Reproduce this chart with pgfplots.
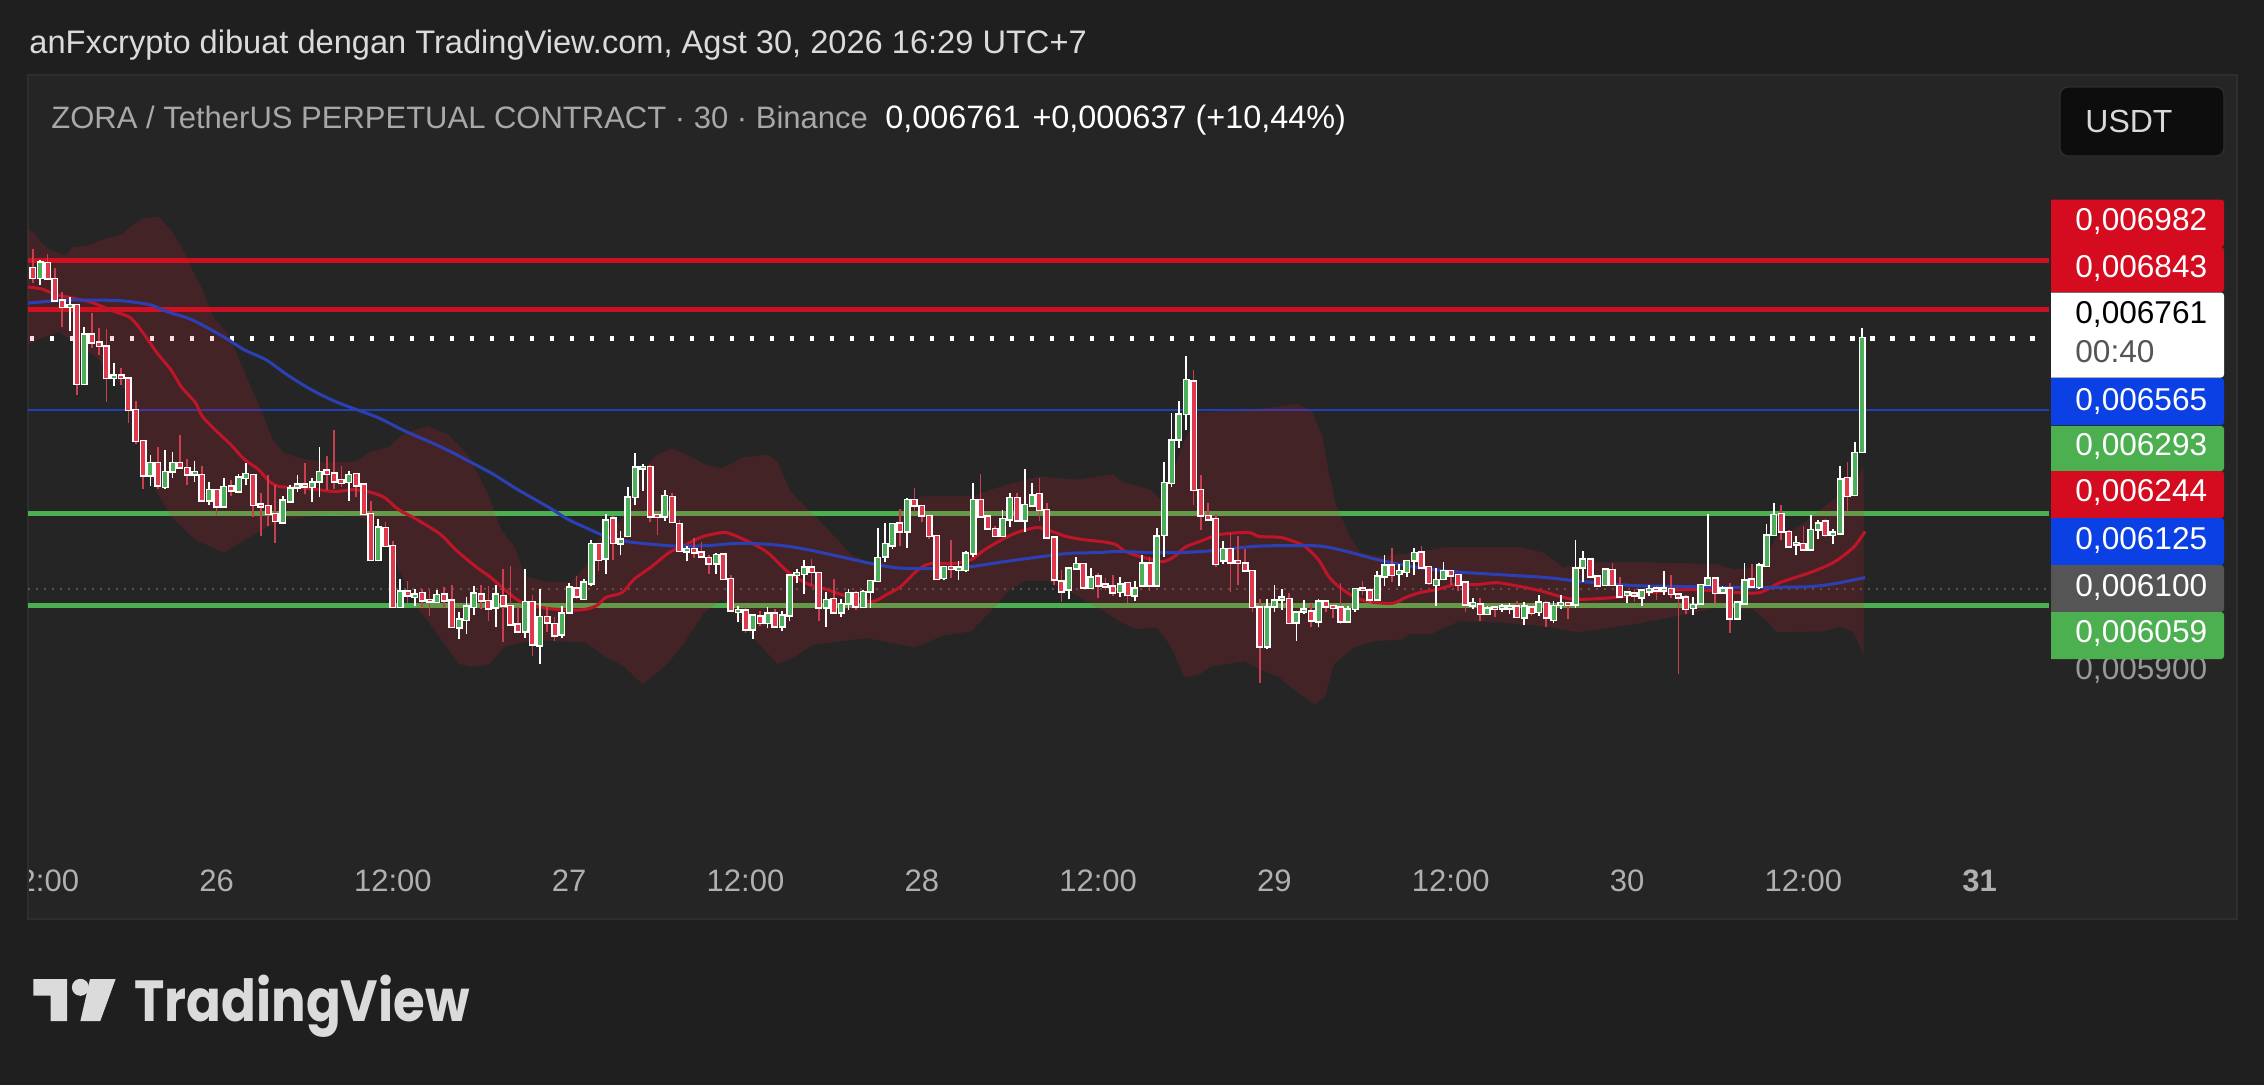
\documentclass[border=0pt]{standalone}
\usepackage{pgfplots}
\usepackage{pgfplotstable}
\usepackage{fontspec}
\pgfplotsset{compat=1.18}
\setmainfont{Liberation Sans}
\newfontfamily\tvfont{Poppins}
\definecolor{pagebg}{HTML}{1F1F1F}
\definecolor{panelbg}{HTML}{262526}
\definecolor{panelln}{HTML}{2F2E2F}
\definecolor{upfill}{HTML}{4CAF5A}
\definecolor{dnfill}{HTML}{E0394E}
\definecolor{dnwick}{HTML}{C93F4F}
\definecolor{lvred}{HTML}{CC0F22}
\definecolor{lvgreen}{HTML}{4CAF50}
\definecolor{lvblue}{HTML}{2040B8}
\definecolor{mared}{HTML}{BE1528}
\definecolor{mablue}{HTML}{2B40B4}
\definecolor{bandc}{RGB}{240,30,40}
\definecolor{boxred}{HTML}{D50B1F}
\definecolor{boxblue}{HTML}{0B40E4}
\definecolor{boxgreen}{HTML}{4CAF50}
\definecolor{boxgrey}{HTML}{555555}
% prices below are in millionths of USDT
\pgfplotstableread{
x o h l c
-25 6959 7014 6916 6932
-24 6932 6982 6911 6975
-23 6973 6999 6925 6930
-22 6928 6960 6868 6868
-21 6866 6892 6794 6850
-20 6850 6878 6782 6854
-19 6854 6856 6606 6637
-18 6637 6793 6632 6771
-17 6771 6832 6735 6750
-16 6749 6790 6715 6740
-15 6738 6787 6588 6652
-14 6652 6694 6631 6658
-13 6658 6680 6634 6652
-12 6650 6650 6531 6566
-11 6564 6590 6473 6483
-10 6481 6481 6357 6391
-9 6391 6444 6363 6423
-8 6423 6465 6357 6365
-7 6362 6458 6357 6399
-6 6402 6452 6384 6423
-5 6423 6497 6410 6412
-4 6410 6433 6365 6394
-3 6394 6428 6374 6399
-2 6391 6417 6326 6326
-1 6326 6375 6314 6352
0 6352 6352 6288 6311
1 6311 6383 6310 6360
2 6362 6380 6339 6352
3 6350 6394 6347 6385
4 6385 6423 6366 6394
5 6392 6392 6282 6315
6 6315 6344 6234 6311
7 6311 6391 6261 6292
8 6290 6365 6217 6273
9 6270 6337 6269 6324
10 6324 6365 6321 6357
11 6360 6391 6348 6367
12 6367 6423 6342 6363
13 6362 6385 6322 6372
14 6376 6465 6334 6399
15 6403 6442 6354 6396
16 6396 6512 6357 6376
17 6378 6417 6360 6372
18 6374 6403 6324 6392
19 6394 6394 6334 6366
20 6366 6366 6292 6292
21 6290 6324 6170 6174
22 6174 6277 6172 6256
23 6254 6270 6208 6210
24 6208 6221 6054 6056
25 6056 6126 6056 6093
26 6093 6121 6064 6085
27 6081 6099 6057 6086
28 6089 6099 6056 6072
29 6072 6097 6034 6070
30 6068 6097 6067 6084
31 6086 6104 6054 6072
32 6070 6111 6005 6006
33 6005 6043 5975 6023
34 6024 6081 5988 6056
35 6056 6107 6035 6088
36 6085 6109 6051 6072
37 6069 6107 6020 6052
38 6054 6111 6006 6086
39 6082 6151 5969 6059
40 6057 6159 6012 6012
41 6011 6056 5993 5996
42 5996 6151 5978 6067
43 6067 6086 5934 5963
44 5961 6101 5915 6029
45 6030 6056 5993 6018
46 6012 6029 5971 5986
47 5988 6057 5978 6039
48 6043 6116 6042 6103
49 6101 6132 6076 6082
50 6076 6126 6072 6116
51 6114 6225 6107 6213
52 6213 6213 6145 6174
53 6177 6291 6138 6273
54 6279 6285 6173 6217
55 6215 6248 6185 6225
56 6235 6361 6235 6333
57 6335 6449 6315 6411
58 6410 6422 6350 6413
59 6413 6420 6270 6285
60 6288 6288 6236 6284
61 6285 6352 6273 6337
62 6334 6346 6268 6271
63 6264 6274 6196 6197
64 6196 6208 6170 6200
65 6200 6230 6179 6193
66 6191 6219 6181 6183
67 6177 6187 6138 6165
68 6165 6190 6138 6185
69 6187 6187 6124 6126
70 6124 6136 6042 6048
71 6044 6057 6018 6047
72 6045 6057 5992 6000
73 6000 6037 5977 6033
74 6031 6045 6008 6016
75 6016 6054 6002 6039
76 6039 6051 6006 6008
77 6008 6045 5996 6033
78 6035 6136 6020 6133
79 6136 6151 6116 6139
80 6138 6173 6088 6153
81 6153 6176 6109 6143
82 6139 6139 6020 6055
83 6055 6092 6006 6072
84 6074 6124 6042 6043
85 6043 6076 6029 6062
86 6064 6099 6048 6089
87 6089 6095 6048 6057
88 6056 6097 6053 6092
89 6095 6119 6053 6119
90 6121 6255 6119 6177
91 6183 6268 6167 6213
92 6211 6268 6200 6264
93 6266 6304 6208 6246
94 6246 6331 6204 6326
95 6326 6359 6294 6313
96 6311 6313 6270 6287
97 6285 6285 6227 6235
98 6234 6234 6124 6126
99 6128 6159 6122 6155
100 6155 6223 6128 6151
101 6149 6170 6122 6153
102 6149 6197 6142 6189
103 6191 6370 6181 6326
104 6326 6394 6284 6285
105 6284 6285 6251 6254
106 6251 6261 6234 6235
107 6235 6302 6234 6277
108 6277 6346 6258 6331
109 6331 6344 6273 6275
110 6275 6407 6244 6313
111 6314 6372 6313 6339
112 6342 6385 6273 6302
113 6300 6318 6230 6231
114 6230 6230 6109 6124
115 6118 6149 6068 6095
116 6099 6155 6074 6151
117 6153 6181 6151 6162
118 6162 6162 6099 6105
119 6103 6153 6099 6128
120 6130 6141 6078 6110
121 6111 6128 6097 6107
122 6105 6136 6082 6092
123 6093 6131 6081 6110
124 6114 6116 6066 6086
125 6084 6120 6070 6101
126 6109 6185 6107 6164
127 6164 6181 6095 6110
128 6110 6255 6107 6232
129 6238 6427 6181 6370
130 6372 6557 6361 6483
131 6486 6590 6464 6552
132 6555 6713 6510 6645
133 6642 6674 6314 6354
134 6352 6391 6249 6288
135 6285 6320 6277 6277
136 6277 6292 6155 6164
137 6173 6221 6162 6200
138 6200 6243 6093 6167
139 6170 6235 6111 6166
140 6164 6200 6145 6147
141 6145 6145 6043 6056
142 6053 6076 5870 5959
143 5959 6074 5951 6053
144 6057 6111 6043 6070
145 6074 6099 6048 6078
146 6074 6091 6016 6016
147 6018 6041 5971 6041
148 6045 6072 6037 6048
149 6043 6062 6006 6022
150 6020 6076 6006 6068
151 6068 6070 6043 6057
152 6057 6057 6027 6053
153 6053 6116 6012 6020
154 6020 6057 6018 6048
155 6051 6101 6043 6099
156 6101 6120 6086 6099
157 6095 6103 6062 6074
158 6074 6145 6072 6131
159 6132 6185 6107 6158
160 6158 6204 6117 6136
161 6138 6162 6107 6145
162 6143 6174 6131 6170
163 6173 6204 6134 6190
164 6192 6210 6153 6155
165 6155 6155 6111 6116
166 6111 6153 6057 6122
167 6126 6169 6122 6145
168 6145 6149 6109 6134
169 6134 6136 6095 6111
170 6116 6116 6043 6062
171 6060 6078 6051 6064
172 6060 6078 6020 6039
173 6039 6057 6037 6051
174 6053 6053 6029 6051
175 6052 6062 6043 6055
176 6052 6066 6037 6056
177 6056 6070 6029 6031
178 6029 6068 6010 6056
179 6053 6062 6033 6041
180 6044 6086 6033 6066
181 6064 6070 6006 6029
182 6024 6070 6016 6057
183 6061 6085 6051 6064
184 6064 6064 6026 6061
185 6062 6223 6053 6151
186 6155 6197 6117 6174
187 6174 6179 6131 6132
188 6130 6130 6106 6109
189 6111 6151 6109 6149
190 6147 6166 6109 6111
191 6107 6131 6081 6082
192 6086 6090 6066 6090
193 6088 6099 6068 6084
194 6080 6101 6057 6096
195 6095 6111 6082 6099
196 6101 6107 6072 6097
197 6097 6145 6086 6101
198 6099 6136 6078 6088
199 6086 6086 5890 6080
200 6078 6084 6039 6051
201 6053 6080 6035 6059
202 6064 6113 6062 6109
203 6111 6291 6109 6126
204 6126 6128 6066 6091
205 6092 6107 6089 6101
206 6101 6116 5992 6027
207 6027 6070 6027 6066
208 6064 6166 6062 6121
209 6123 6162 6106 6107
210 6106 6166 6099 6158
211 6158 6266 6157 6235
212 6238 6318 6235 6287
213 6290 6313 6224 6246
214 6244 6249 6207 6208
215 6213 6235 6185 6216
216 6213 6259 6198 6200
217 6200 6287 6198 6249
218 6251 6275 6227 6266
219 6270 6279 6232 6238
220 6238 6253 6213 6243
221 6241 6416 6240 6380
222 6383 6427 6297 6339
223 6341 6480 6339 6449
224 6453 6789 6452 6761
}\candles
\pgfplotstableread{
x p
-25.7 7068
-24.8 7060
-23.9 7031
-22.4 7008
-20.5 6996
-19.6 7019
-17.2 7025
-15.3 7043
-12.9 7055
-11.5 7083
-9.8 7103
-7.9 7106
-6.2 7068
-4.3 7002
-3.3 6953
-1.9 6897
-0.5 6821
1.4 6776
3.1 6702
4.8 6620
6.2 6558
7.6 6486
9.1 6452
11.5 6436
14.8 6425
19.1 6428
21 6454
23.4 6465
25.3 6499
28.7 6522
31.5 6499
34.4 6441
36.8 6347
38.7 6251
40.6 6205
42 6131
44.9 6119
48.2 6116
50.2 6156
52.5 6243
54.9 6269
57.8 6399
59.7 6441
61.9 6462
64.5 6441
66.4 6420
68.8 6410
71.7 6438
75 6446
76.4 6425
78.1 6349
80.2 6308
83.6 6243
86.4 6187
89.3 6162
91.2 6174
93.1 6302
96 6336
102.7 6336
107.5 6367
112.2 6388
117 6380
122 6394
123.2 6375
127.1 6354
128.7 6321
131.8 6486
133.8 6558
141.4 6566
147.1 6582
149.1 6561
150.5 6494
151.4 6399
152.4 6310
154.3 6233
155.7 6192
158.6 6182
163.4 6192
167.2 6205
177.4 6205
180.6 6192
183.3 6154
187.4 6167
195.1 6167
204.2 6162
206.5 6149
210.1 6156
212.4 6233
215.5 6259
220.1 6328
221.9 6336
224.2 6415
224.2 5939
222.8 5993
221 6007
218.7 5995
212.4 5993
211 6020
209.2 6049
204.2 6054
200.1 6037
192.8 6012
185.3 5993
181 6007
174.8 6017
169.1 6020
165.3 5988
162.4 5988
161.5 5975
157.6 5971
154.8 5956
152.1 5915
150.9 5837
149.5 5818
148.1 5835
146.2 5859
144.7 5883
141.9 5903
140 5922
135.2 5908
133.8 5890
131.8 5883
129.9 5958
128 6005
125.2 6000
123.2 6017
120.4 6049
118 6074
115.6 6099
113.2 6121
109.9 6121
107.5 6091
106 6057
102.7 5995
98.9 5985
95.1 5956
88.4 5978
81.2 5963
78.8 5934
76.4 5915
73.6 5968
70.2 6042
68.8 6074
66.4 6042
63.5 5963
61.6 5920
58 5866
55.4 5910
53 5932
50.2 5968
45.4 5971
43.9 5975
39.2 5958
37.2 5915
34.9 5908
33 5915
29.6 6000
27.2 6057
24.8 6149
23.4 6218
22 6264
19.1 6285
15.3 6290
9.6 6277
6.7 6256
3.3 6218
1 6192
-2.9 6225
-6.2 6285
-8.1 6347
-9.6 6415
-11 6504
-12.4 6620
-16 6702
-17.7 6729
-21.5 6779
-23.9 6762
-25.7 6743
}\band
\pgfplotstableread{
x p
-25.7 6905
-23.9 6900
-22 6885
-19.6 6874
-17.2 6863
-15.5 6849
-13.8 6835
-11.7 6818
-10 6776
-8.1 6721
-6.2 6674
-4.8 6628
-2.9 6585
-1.9 6547
0.2 6504
1.9 6473
3.8 6433
5.7 6407
7.2 6375
8.6 6362
11 6360
13.8 6354
16.2 6349
18.6 6354
21 6347
22.9 6333
24.8 6302
27.2 6277
30.5 6238
32.5 6200
35.3 6156
37.2 6131
39.2 6099
41.5 6067
44.9 6052
49.2 6047
51.6 6057
53 6079
55.2 6091
56.8 6124
59.2 6156
61.6 6192
63.5 6208
65.9 6231
68.8 6243
70.2 6238
72.6 6218
75 6192
77.9 6141
80.7 6111
83.1 6099
85 6086
86.5 6081
89.3 6069
91.2 6086
93.1 6106
95.5 6149
97.2 6164
100.3 6164
102.7 6174
104.6 6200
107.5 6231
109.4 6246
111.8 6256
113.7 6246
115.6 6233
118 6225
120.4 6220
122.3 6213
123.7 6195
125.6 6182
127.5 6174
128.9 6169
130.4 6182
131.8 6205
133.8 6220
136.6 6238
140.4 6243
141.9 6233
144.7 6231
146.2 6223
148.1 6208
150 6174
151.4 6131
152.9 6104
154.8 6081
156.7 6069
160 6064
161.9 6079
163.8 6091
166.2 6099
168.6 6111
171.5 6111
174.3 6116
177.5 6106
180.5 6094
183.3 6079
185.1 6074
188.3 6076
191.5 6081
195.1 6091
200.1 6099
203.7 6096
207.3 6091
210.1 6091
212.8 6116
216.9 6141
220.1 6167
222.8 6205
224.4 6246
}\mared
\pgfplotstableread{
x p
-25.7 6860
-23.9 6863
-20.6 6868
-17.2 6868
-13 6866
-9.1 6855
-6.7 6835
-3.3 6812
1 6765
3.8 6729
6.7 6702
9.6 6661
12.9 6620
16.2 6588
19.1 6566
22 6544
25.8 6507
30.5 6467
34.4 6428
37.7 6394
41 6354
45.4 6306
47.8 6277
50.2 6256
53 6233
55.9 6220
59.2 6213
63 6208
66.9 6210
70.7 6215
75 6213
78.8 6205
83.6 6187
88.4 6167
92.2 6154
96 6151
101.7 6154
106.5 6167
111.3 6179
116 6190
120.3 6192
122.3 6195
127.1 6192
131.4 6192
135.7 6197
141.4 6208
147.1 6210
150.5 6208
153.8 6195
158.1 6174
162.9 6156
168.1 6144
174.8 6136
181 6129
185.8 6119
192.8 6109
200.1 6106
206.5 6104
211 6104
216.9 6106
220.5 6114
224.4 6129
}\mablue
\newcommand{\pbox}[6]{% top, bottom, fill, text colour, baseline, text
  \fill[#3] (2051,#1) -- (2221,#1) to[out=0,in=90] (2224,{#1+3}) -- (2224,{#2-3}) to[out=-90,in=0] (2221,#2) -- (2051,#2) -- cycle;
  \node[anchor=base west,inner sep=0pt,text=#4,font=\fontsize{15.8}{18}\selectfont] at (2075,#5) {#6};}
\begin{document}
\begin{tikzpicture}
\begin{scope}[x=0.5pt,y=-0.5pt]
\fill[pagebg] (-10,-10) rectangle (2274,1094);
\fill[panelbg,draw=panelln,line width=1pt] (28,75) rectangle (2237,919);
\end{scope}
\begin{axis}[
  at={(14pt,-422.5pt)},anchor=south west,
  scale only axis,width=1010.5pt,height=384.5pt,
  xmin=-25.67,xmax=249.44,
  ymode=log,ymin=0.005491,ymax=0.007530,
  axis line style={draw=none},
  tick style={draw=none},
  ytick=\empty,
  xtick={-24,0,24,48,72,96,120,144,168,192,216,240},
  xticklabels={12:00,26,12:00,27,12:00,28,12:00,29,12:00,30,12:00,\textbf{31}},
  xticklabel style={anchor=base,yshift=-23pt,text=white!69!black,font=\fontsize{15.5}{18}\selectfont},
  filter discard warning=false,
  wick/.style={draw=none,mark=none,
    error bars/.cd,y dir=plus,y explicit,error mark=none,
    error bar style={line width=0.85pt,draw=#1}},
  body/.style 2 args={draw=none,mark=none,
    error bars/.cd,y dir=plus,y explicit,error mark=none,
    error bar style={line width=#1,draw=#2}},
  isup/.style={x filter/.expression={\thisrow{c}>=\thisrow{o}?x:nan}},
  isdn/.style={x filter/.expression={\thisrow{c}<\thisrow{o}?x:nan}},
]
% horizontal levels, beneath the band
\addplot[lvred,line width=2.5pt] coordinates {(-25.67,0.006982) (249.44,0.006982)};
\addplot[lvred,line width=2.5pt] coordinates {(-25.67,0.006843) (249.44,0.006843)};
\addplot[lvblue,line width=1.3pt] coordinates {(-25.67,0.006565) (249.44,0.006565)};
\addplot[lvgreen,line width=2.5pt] coordinates {(-25.67,0.006293) (249.44,0.006293)};
\addplot[lvgreen,line width=2.5pt] coordinates {(-25.67,0.006059) (249.44,0.006059)};
\addplot[white!33!black,line width=0.7pt,dash pattern=on 0.9pt off 3.1pt] coordinates {(-25.67,0.006100) (249.44,0.006100)};
\addplot[white,line width=2.25pt,dash pattern=on 2.25pt off 7.75pt] coordinates {(-25.4,0.006761) (249.44,0.006761)};
% band
\addplot[draw=none,fill=bandc,fill opacity=0.15] table[x=x,y expr={\thisrow{p}/1000000}] {\band} -- cycle;
% moving averages
\addplot[mared,line width=1.5pt,line join=round,smooth,tension=0.5] table[x=x,y expr={\thisrow{p}/1000000}] {\mared};
\addplot[mablue,line width=1.5pt,line join=round,smooth,tension=0.5] table[x=x,y expr={\thisrow{p}/1000000}] {\mablue};
% candles: wicks, white outlines, fills
\addplot[isup,wick=white] table[x=x,y expr={\thisrow{l}/1000000},y error plus expr={(\thisrow{h}-\thisrow{l})/1000000}] {\candles};
\addplot[isdn,wick=dnwick] table[x=x,y expr={\thisrow{l}/1000000},y error plus expr={(\thisrow{h}-\thisrow{l})/1000000}] {\candles};
\addplot[body={3.5pt}{white}] table[x=x,y expr={(min(\thisrow{o},\thisrow{c})-4)/1000000},y error plus expr={(abs(\thisrow{c}-\thisrow{o})+8)/1000000}] {\candles};
\addplot[isup,body={2pt}{upfill}] table[x=x,y expr={\thisrow{o}/1000000},y error plus expr={(\thisrow{c}-\thisrow{o})/1000000}] {\candles};
\addplot[isdn,body={2pt}{dnfill}] table[x=x,y expr={\thisrow{c}/1000000},y error plus expr={(\thisrow{o}-\thisrow{c})/1000000}] {\candles};
\end{axis}
\begin{scope}[x=0.5pt,y=-0.5pt]
\fill[pagebg] (-10,850) rectangle (27.5,919);
\draw[panelln,line width=1pt] (28,850) -- (28,919);
% title and header
\node[anchor=base west,inner sep=0pt,text=white!86!black,font=\fontsize{16.3}{18}\selectfont] at (29,53) {anFxcrypto dibuat dengan TradingView.com, Agst 30, 2026 16:29 UTC+7};
\node[anchor=base west,inner sep=0pt,text=white!66!black,font=\fontsize{15.5}{18}\selectfont] at (51,128) {ZORA / TetherUS PERPETUAL CONTRACT · 30 · Binance};
\node[anchor=base west,inner sep=0pt,text=white,font=\fontsize{16.2}{18}\selectfont] at (885,128) {0,006761\hspace{6pt}+0,000637 (+10,44\%)};
% currency button
\fill[black!95!white,draw=panelln,line width=0.7pt,rounded corners=4pt] (2060,87) rectangle (2224,156);
\node[anchor=base west,inner sep=0pt,text=white!85!black,font=\fontsize{16}{18}\selectfont] at (2085,132) {USDT};
% price labels
\node[anchor=base west,inner sep=0pt,text=white!60!black,font=\fontsize{15.8}{18}\selectfont] at (2075,679) {0,005900};
\pbox{199.5}{247}{boxred}{white}{230}{0,006982}
\pbox{247}{292}{boxred}{white}{277}{0,006843}
\pbox{292.5}{377.5}{white}{black}{323}{0,006761}
\node[anchor=base west,inner sep=0pt,text=boxgrey,font=\fontsize{15.8}{18}\selectfont] at (2075,362) {00:40};
\pbox{378}{425}{boxblue}{white}{410}{0,006565}
\pbox{426}{471}{boxgreen}{white}{455}{0,006293}
\pbox{471}{518}{boxred}{white}{501}{0,006244}
\pbox{518}{565}{boxblue}{white}{549}{0,006125}
\pbox{565}{612}{boxgrey}{white}{596}{0,006100}
\pbox{612}{659}{boxgreen}{white}{642}{0,006059}
% logo
\fill[white!86!black] (33.3,979) -- (67,979) -- (67,1021) -- (50.5,1021) -- (50.5,995.7) -- (33.3,995.7) -- cycle;
\fill[white!86!black] (80.4,987.3) circle (8.5);
\fill[white!86!black] (90,979) -- (115.6,979) -- (100.3,1021) -- (80.4,1021) -- cycle;
\node[anchor=base west,inner sep=0pt,xscale=0.885,text=white!86!black,font=\tvfont\bfseries\fontsize{29}{32}\selectfont] at (134,1021) {TradingView};
\end{scope}
\pgfresetboundingbox
\path[use as bounding box] (0pt,0pt) rectangle (1132pt,-542pt);
\end{tikzpicture}
\end{document}
